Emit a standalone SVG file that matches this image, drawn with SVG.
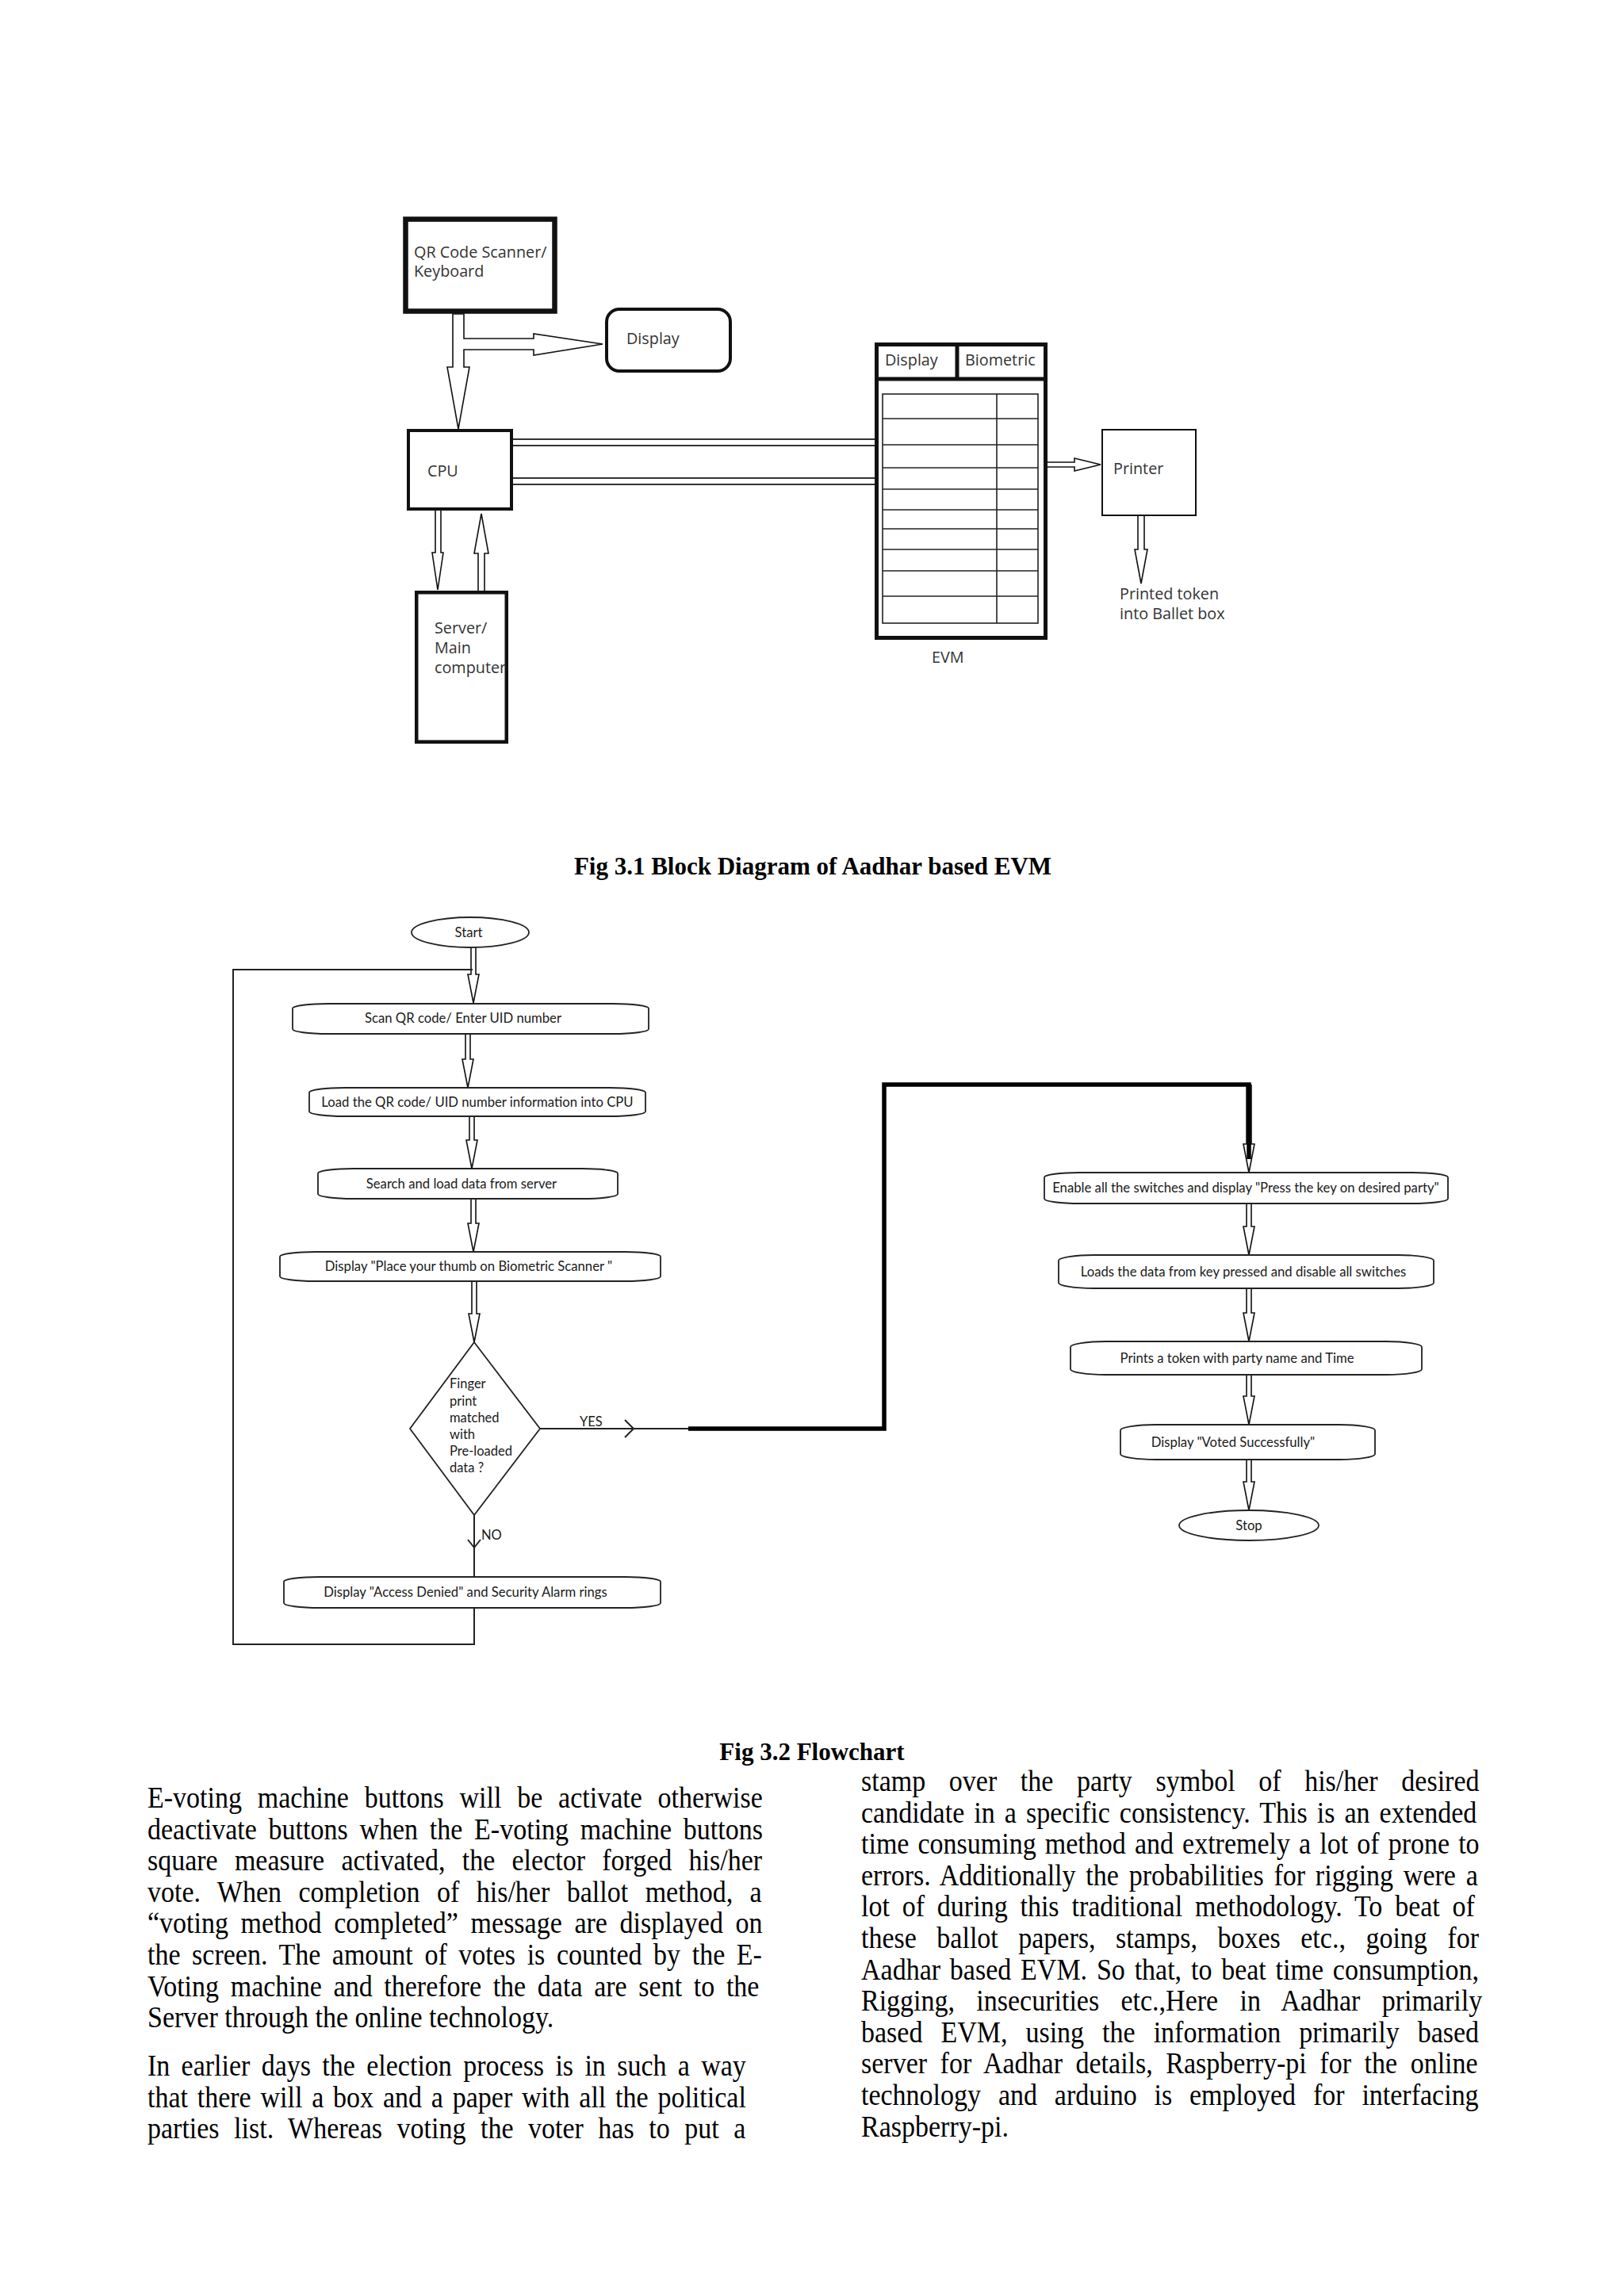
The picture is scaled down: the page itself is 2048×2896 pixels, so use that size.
<svg xmlns="http://www.w3.org/2000/svg" width="2048" height="2896" viewBox="0 0 2048 2896">
<style>
.bd{font-family:"Open Sans","Noto Sans",sans-serif;font-size:19.8px;fill:#333}
.fc{font-family:Lato,"Liberation Sans",sans-serif;font-size:16.5px;fill:#1a1a1a}
.fcm{font-family:Lato,"Liberation Sans",sans-serif;font-size:16.7px;fill:#1a1a1a;text-anchor:middle}
.body{font-family:"Liberation Serif","Times New Roman",serif;font-size:38px;fill:#000}
.cap{font-family:"Liberation Serif","Times New Roman",serif;font-size:31px;font-weight:bold;fill:#000;text-anchor:middle}
.box{fill:#fff;stroke:#111}
.arr{fill:#fff;stroke:#111;stroke-width:1.6;stroke-linejoin:miter}
.ln{fill:none;stroke:#222;stroke-width:2}
.fbox{fill:#fff;stroke:#222;stroke-width:1.8}
</style>
<rect x="0" y="0" width="2048" height="2896" fill="#fff"/>

<!-- Block diagram -->
<g id="bd-connectors">
<polygon class="arr" points="571,396 571,463 564,463 578,541 592,463 585,463 585,441 673,441 673,448 760,434 673,421 673,427 585,427 585,396"/>
<polyline class="arr" points="549,644 549,697 545,697 552,744 559,697 556,697 556,644"/>
<polyline class="arr" points="603,745 603,698 598,698 607,648 616,698 611,698 611,745"/>
<g stroke="#333" stroke-width="2">
<line x1="647" y1="554" x2="1103" y2="554"/>
<line x1="647" y1="562" x2="1103" y2="562"/>
<line x1="647" y1="603" x2="1103" y2="603"/>
<line x1="647" y1="611" x2="1103" y2="611"/>
</g>
<polyline class="arr" points="1321,583 1355,583 1355,578 1388,586 1355,594 1355,589 1321,589"/>
<polyline class="arr" points="1435,650 1435,693 1431,693 1439,736 1447,693 1443,693 1443,650"/>
</g>
<g id="qr">
<rect class="box" x="511.5" y="276.5" width="188" height="116" stroke-width="6.5"/>
<text class="bd" x="522" y="325">QR Code Scanner/</text>
<text class="bd" x="522" y="349">Keyboard</text>
</g>
<g id="display1">
<rect class="box" x="765" y="390" width="156" height="78" rx="16" stroke-width="4"/>
<text class="bd" x="790" y="434">Display</text>
</g>
<g id="cpu">
<rect class="box" x="515" y="543" width="130" height="99" stroke-width="4"/>
<text class="bd" x="539" y="601">CPU</text>
</g>
<g id="server">
<rect class="box" x="525.25" y="747.25" width="113.5" height="188.5" stroke-width="4.5"/>
<text class="bd" x="548" y="799">Server/</text>
<text class="bd" x="548" y="824">Main</text>
<text class="bd" x="548" y="849">computer</text>
</g>
<g id="evm">
<rect class="box" x="1105.5" y="434.5" width="213" height="370" stroke-width="5"/>
<line x1="1105.5" y1="478" x2="1318.5" y2="478" stroke="#111" stroke-width="5"/>
<line x1="1207" y1="434.5" x2="1207" y2="478" stroke="#111" stroke-width="5"/>
<text class="bd" x="1116" y="461">Display</text>
<text class="bd" x="1217" y="461">Biometric</text>
<g stroke="#222" stroke-width="1.6" fill="none">
<rect x="1113" y="497" width="196" height="289"/>
<line x1="1257" y1="497" x2="1257" y2="786"/>
<line x1="1113" y1="528" x2="1309" y2="528"/>
<line x1="1113" y1="561" x2="1309" y2="561"/>
<line x1="1113" y1="590" x2="1309" y2="590"/>
<line x1="1113" y1="617" x2="1309" y2="617"/>
<line x1="1113" y1="643" x2="1309" y2="643"/>
<line x1="1113" y1="667" x2="1309" y2="667"/>
<line x1="1113" y1="693" x2="1309" y2="693"/>
<line x1="1113" y1="720" x2="1309" y2="720"/>
<line x1="1113" y1="752" x2="1309" y2="752"/>
</g>
<text class="bd" x="1175" y="836">EVM</text>
</g>
<g id="printer">
<rect class="box" x="1390" y="542" width="118" height="108" stroke-width="2"/>
<text class="bd" x="1404" y="598">Printer</text>
</g>
<g id="token">
<text class="bd" x="1412" y="756">Printed token</text>
<text class="bd" x="1412" y="781">into Ballet box</text>
</g>
<text class="cap" x="1025" y="1103">Fig 3.1 Block Diagram of Aadhar based EVM</text>

<!-- Flowchart -->
<g id="fc-connectors">
<polyline class="arr" points="594,1195 594,1229 590,1229 597,1265 604,1229 600,1229 600,1195"/>
<polyline class="arr" points="587,1304 587,1336 583,1336 590,1372 597,1336 593,1336 593,1304"/>
<polyline class="arr" points="592,1408 592,1438 588,1438 595,1474 602,1438 598,1438 598,1408"/>
<polyline class="arr" points="594,1512 594,1543 590,1543 597,1579 604,1543 600,1543 600,1512"/>
<polyline class="arr" points="595,1616 595,1657 591,1657 598,1693 605,1657 601,1657 601,1616"/>
<line class="ln" x1="681" y1="1802" x2="870" y2="1802"/>
<polyline class="ln" points="788,1791 799,1802 788,1813"/>
<text class="fc" x="731" y="1799" font-size="15.5">YES</text>
<polyline class="arr" points="1572,1368 1572,1443 1568,1443 1575,1479 1582,1443 1578,1443 1578,1368"/>
<path d="M868,1802 H1115 V1368 H1575 V1462" fill="none" stroke="#000" stroke-width="5.5"/>
<line class="ln" x1="598" y1="1911" x2="598" y2="1989"/>
<polyline class="ln" points="590,1942 598,1952 606,1942"/>
<text class="fc" x="607" y="1942" font-size="15.5">NO</text>
<polyline class="ln" points="598,2028 598,2074 294,2074 294,1223 596,1223"/>
<polyline class="arr" points="1572,1518 1572,1547 1568,1547 1575,1583 1582,1547 1578,1547 1578,1518"/>
<polyline class="arr" points="1572,1625 1572,1656 1568,1656 1575,1692 1582,1656 1578,1656 1578,1625"/>
<polyline class="arr" points="1572,1734 1572,1761 1568,1761 1575,1797 1582,1761 1578,1761 1578,1734"/>
<polyline class="arr" points="1572,1841 1572,1869 1568,1869 1575,1905 1582,1869 1578,1869 1578,1841"/>
</g>
<g id="start">
<ellipse class="fbox" cx="593" cy="1176" rx="74" ry="19"/>
<text class="fcm" x="591" y="1182">Start</text>
</g>
<g id="scan">
<rect class="fbox" x="369" y="1266" width="449" height="38" rx="45" ry="6"/>
<text class="fcm" x="584" y="1290">Scan QR code/ Enter UID number</text>
</g>
<g id="load">
<rect class="fbox" x="390" y="1372" width="424" height="36" rx="45" ry="6"/>
<text class="fcm" x="602" y="1396">Load the QR code/ UID number information into CPU</text>
</g>
<g id="search">
<rect class="fbox" x="401" y="1474" width="378" height="38" rx="45" ry="6"/>
<text class="fcm" x="582" y="1499">Search and load data from server</text>
</g>
<g id="thumb">
<rect class="fbox" x="353" y="1579" width="480" height="37" rx="45" ry="6"/>
<text class="fcm" x="591" y="1603">Display "Place your thumb on Biometric Scanner "</text>
</g>
<g id="decision">
<polygon class="fbox" points="598,1693 681,1802 598,1911 517,1802"/>
<text class="fc" x="567" y="1751" font-size="17.3">Finger</text>
<text class="fc" x="567" y="1773" font-size="17.3">print</text>
<text class="fc" x="567" y="1794" font-size="17.3">matched</text>
<text class="fc" x="567" y="1815" font-size="17.3">with</text>
<text class="fc" x="567" y="1836" font-size="17.3">Pre-loaded</text>
<text class="fc" x="567" y="1857" font-size="17.3">data ?</text>
</g>
<g id="denied">
<rect class="fbox" x="358" y="1989" width="475" height="39" rx="45" ry="6"/>
<text class="fcm" x="587" y="2014">Display "Access Denied" and Security Alarm rings</text>
</g>
<g id="enable">
<rect class="fbox" x="1317" y="1479" width="509" height="39" rx="45" ry="6"/>
<text class="fcm" x="1571" y="1504">Enable all the switches and display "Press the key on desired party"</text>
</g>
<g id="loads">
<rect class="fbox" x="1335" y="1583" width="473" height="42" rx="45" ry="7"/>
<text class="fcm" x="1568" y="1610">Loads the data from key pressed and disable all switches</text>
</g>
<g id="prints">
<rect class="fbox" x="1350" y="1692" width="443" height="42" rx="45" ry="7"/>
<text class="fcm" x="1560" y="1719">Prints a token with party name and Time</text>
</g>
<g id="voted">
<rect class="fbox" x="1413" y="1797" width="321" height="44" rx="45" ry="7"/>
<text class="fcm" x="1555" y="1825">Display "Voted Successfully"</text>
</g>
<g id="stop">
<ellipse class="fbox" cx="1575" cy="1924" rx="88" ry="19"/>
<text class="fcm" x="1575" y="1930">Stop</text>
</g>
<text class="cap" x="1024" y="2220">Fig 3.2 Flowchart</text>

<!-- Body text (condensed Times look: 38px scaled 0.895 horizontally) -->
<g id="body-left" class="body" transform="scale(0.895,1)">
<text x="207.8" y="2280" word-spacing="12.6">E-voting machine buttons will be activate otherwise</text>
<text x="207.8" y="2319.6" word-spacing="7">deactivate buttons when the E-voting machine buttons</text>
<text x="207.8" y="2359.2" word-spacing="14.2">square measure activated, the elector forged his/her</text>
<text x="207.8" y="2398.8" word-spacing="14.5">vote. When completion of his/her ballot method, a</text>
<text x="207.8" y="2438.4" word-spacing="8">“voting method completed” message are displayed on</text>
<text x="207.8" y="2478" word-spacing="6.8">the screen. The amount of votes is counted by the E-</text>
<text x="207.8" y="2517.6" word-spacing="6.9">Voting machine and therefore the data are sent to the</text>
<text x="207.8" y="2557.2">Server through the online technology.</text>
<text x="207.8" y="2618" word-spacing="6.5">In earlier days the election process is in such a way</text>
<text x="207.8" y="2657.6" word-spacing="3.7">that there will a box and a paper with all the political</text>
<text x="207.8" y="2697.2" word-spacing="11.2">parties list. Whereas voting the voter has to put a</text>
</g>
<g id="body-right" class="body" transform="scale(0.895,1)">
<text x="1213.4" y="2259" word-spacing="23.6">stamp over the party symbol of his/her desired</text>
<text x="1213.4" y="2298.6" word-spacing="4">candidate in a specific consistency. This is an extended</text>
<text x="1213.4" y="2338.2" word-spacing="2.9">time consuming method and extremely a lot of prone to</text>
<text x="1213.4" y="2377.8" word-spacing="4.8">errors. Additionally the probabilities for rigging were a</text>
<text x="1213.4" y="2417.4" word-spacing="8.2">lot of during this traditional methodology. To beat of</text>
<text x="1213.4" y="2457" word-spacing="19">these ballot papers, stamps, boxes etc., going for</text>
<text x="1213.4" y="2496.6" word-spacing="3.7">Aadhar based EVM. So that, to beat time consumption,</text>
<text x="1213.4" y="2536.2" word-spacing="21">Rigging, insecurities etc.,Here in Aadhar primarily</text>
<text x="1213.4" y="2575.8" word-spacing="16.2">based EVM, using the information primarily based</text>
<text x="1213.4" y="2615.4" word-spacing="9">server for Aadhar details, Raspberry-pi for the online</text>
<text x="1213.4" y="2655" word-spacing="14.9">technology and arduino is employed for interfacing</text>
<text x="1213.4" y="2694.6">Raspberry-pi.</text>
</g>
</svg>
